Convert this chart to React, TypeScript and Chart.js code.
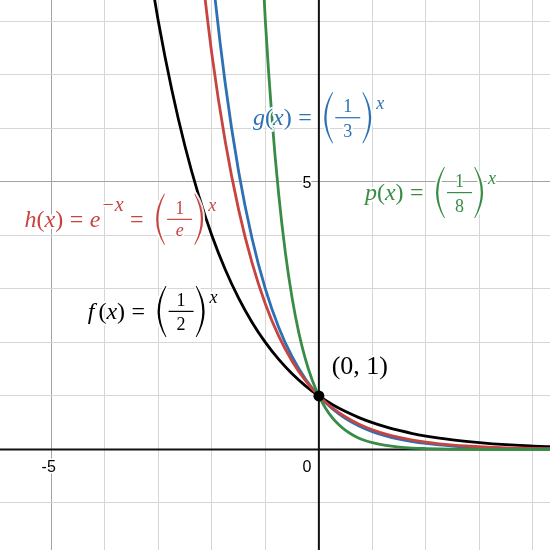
import React, { useEffect, useRef } from 'react';
import Chart from 'chart.js/auto';

// visible window (graph units)
const X_MIN = -5.96;
const X_MAX = 4.32;
const Y_MIN = -1.88;
const Y_MAX = 8.4;

const xTicks = [-5, -4, -3, -2, -1, 0, 1, 2, 3, 4];
const yTicks = [-1, 0, 1, 2, 3, 4, 5, 6, 7, 8];
const xTickLabels = [-5];
const yTickLabels = [5];
const originLabel = '0';

// f(x) = (1/2)^x
const fX = [-3.25, -3, -2.75, -2.5, -2.25, -2, -1.75, -1.5, -1.25, -1, -0.75, -0.5, -0.25, 0, 0.25, 0.5, 0.75, 1, 1.25, 1.5, 1.75, 2, 2.25, 2.5, 2.75, 3, 3.25, 3.5, 3.75, 4, 4.25, 4.5];
const fY = [9.514, 8, 6.727, 5.657, 4.757, 4, 3.364, 2.828, 2.378, 2, 1.682, 1.414, 1.189, 1, 0.841, 0.707, 0.595, 0.5, 0.42, 0.354, 0.297, 0.25, 0.21, 0.177, 0.149, 0.125, 0.105, 0.088, 0.074, 0.063, 0.053, 0.044];

// g(x) = (1/3)^x
const gX = [-2.25, -2, -1.75, -1.5, -1.25, -1, -0.75, -0.5, -0.25, 0, 0.25, 0.5, 0.75, 1, 1.25, 1.5, 1.75, 2, 2.25, 2.5, 2.75, 3, 3.25, 3.5, 3.75, 4, 4.25, 4.5];
const gY = [11.84, 9, 6.839, 5.196, 3.948, 3, 2.28, 1.732, 1.316, 1, 0.76, 0.577, 0.439, 0.333, 0.253, 0.192, 0.146, 0.111, 0.084, 0.064, 0.049, 0.037, 0.028, 0.021, 0.016, 0.012, 0.009, 0.007];

// h(x) = e^-x
const hX = [-2.25, -2, -1.75, -1.5, -1.25, -1, -0.75, -0.5, -0.25, 0, 0.25, 0.5, 0.75, 1, 1.25, 1.5, 1.75, 2, 2.25, 2.5, 2.75, 3, 3.25, 3.5, 3.75, 4, 4.25, 4.5];
const hY = [9.488, 7.389, 5.755, 4.482, 3.49, 2.718, 2.117, 1.649, 1.284, 1, 0.779, 0.607, 0.472, 0.368, 0.287, 0.223, 0.174, 0.135, 0.105, 0.082, 0.064, 0.05, 0.039, 0.03, 0.024, 0.018, 0.014, 0.011];

// p(x) = (1/8)^x
const pX = [-1.125, -1, -0.875, -0.75, -0.625, -0.5, -0.375, -0.25, -0.125, 0, 0.125, 0.25, 0.375, 0.5, 0.625, 0.75, 0.875, 1, 1.25, 1.5, 1.75, 2, 2.25, 2.5, 3, 3.5, 4, 4.5];
const pY = [10.375, 8, 6.169, 4.757, 3.668, 2.828, 2.181, 1.682, 1.297, 1, 0.771, 0.595, 0.459, 0.354, 0.273, 0.21, 0.162, 0.125, 0.074, 0.044, 0.026, 0.016, 0.009, 0.006, 0.002, 0.001, 0.0002, 0.0001];

// the marked point
const pointX = [0];
const pointY = [1];
const pointLabel = '(0, 1)';

const BLACK = '#000000';
const BLUE = '#2d70b3';
const RED = '#c74440';
const GREEN = '#388c46';

const SERIF = '"Liberation Serif", "Times New Roman", serif';
const SANS = '"Liberation Sans", Arial, sans-serif';

type Tok =
  | { t: 'v'; s: string }
  | { t: 'r'; s: string }
  | { t: 'k'; w: number }
  | { t: 'eq' }
  | { t: 'sup'; s: string; minus?: boolean; size?: number; gap?: number }
  | { t: 'pf'; num: string; den: string; denIt?: boolean };

const fn = (name: string, kern = 0): Tok[] => [
  { t: 'v', s: name },
  { t: 'k', w: kern },
  { t: 'r', s: '(' },
  { t: 'v', s: 'x' },
  { t: 'r', s: ')' },
  { t: 'eq' },
];

// label anchors: left edge and math-axis height, in graph units
const mathLabels: { x: number; y: number; color: string; toks: Tok[] }[] = [
  { x: -1.23, y: 6.2, color: BLUE, toks: [...fn('g'), { t: 'pf', num: '1', den: '3' }, { t: 'sup', s: 'x' }] },
  { x: 0.86, y: 4.8, color: GREEN, toks: [...fn('p'), { t: 'pf', num: '1', den: '8' }, { t: 'sup', s: 'x' }] },
  {
    x: -5.5, y: 4.3, color: RED,
    toks: [...fn('h'), { t: 'v', s: 'e' }, { t: 'sup', s: 'x', minus: true, size: 20, gap: 2 }, { t: 'eq' }, { t: 'pf', num: '1', den: 'e', denIt: true }, { t: 'sup', s: 'x' }],
  },
  { x: -4.32, y: 2.58, color: BLACK, toks: [...fn('f', 4), { t: 'pf', num: '1', den: '2' }, { t: 'sup', s: 'x' }] },
];

type Op =
  | { kind: 'text'; s: string; font: string; x: number; y: number }
  | { kind: 'paren'; x: number; y1: number; y2: number; left: boolean }
  | { kind: 'bar'; x1: number; x2: number; y: number };

function layoutMath(ctx: CanvasRenderingContext2D, x0: number, y0: number, toks: Tok[]): Op[] {
  const S = 24;
  const F = 18;
  const it = (n: number) => `italic ${n}px ${SERIF}`;
  const rm = (n: number) => `${n}px ${SERIF}`;
  const bb = (s: string, font: string) => {
    ctx.font = font;
    const m = ctx.measureText(s);
    return { w: m.width, a: m.actualBoundingBoxAscent, d: m.actualBoundingBoxDescent };
  };
  const eq = bb('=', rm(S));
  const base = y0 + (eq.a - eq.d) / 2;
  const ops: Op[] = [];
  let cx = x0;
  for (const k of toks) {
    if (k.t === 'v' || k.t === 'r') {
      const font = k.t === 'v' ? it(S) : rm(S);
      ops.push({ kind: 'text', s: k.s, font, x: cx, y: base });
      cx += bb(k.s, font).w;
    } else if (k.t === 'k') {
      cx += k.w;
    } else if (k.t === 'eq') {
      cx += 6.5;
      ops.push({ kind: 'text', s: '=', font: rm(S), x: cx, y: base });
      cx += eq.w + 6.5;
    } else if (k.t === 'sup') {
      const size = k.size ?? 18;
      cx += k.gap ?? 5;
      const xm = bb(k.s, it(size));
      const b = y0 - 13 + (xm.a - xm.d) / 2;
      if (k.minus) {
        const mm = bb('\u2212', rm(size));
        ops.push({ kind: 'text', s: '\u2212', font: rm(size), x: cx, y: b });
        cx += mm.w + 1;
      }
      ops.push({ kind: 'text', s: k.s, font: it(size), x: cx, y: b });
      cx += xm.w;
    } else if (k.t === 'pf') {
      cx += 6;
      ops.push({ kind: 'paren', x: cx, y1: y0 - 25.5, y2: y0 + 25.5, left: true });
      cx += 8 + 3;
      const denFont = k.denIt ? it(F) : rm(F);
      const n = bb(k.num, rm(F));
      const d = bb(k.den, denFont);
      const fw = Math.max(n.w, d.w) + 16;
      ops.push({ kind: 'bar', x1: cx, x2: cx + fw, y: y0 });
      ops.push({ kind: 'text', s: k.num, font: rm(F), x: cx + fw / 2 - n.w / 2, y: y0 - 12 + (n.a - n.d) / 2 });
      ops.push({ kind: 'text', s: k.den, font: denFont, x: cx + fw / 2 - d.w / 2, y: y0 + 12.5 + (d.a - d.d) / 2 });
      cx += fw + 3;
      ops.push({ kind: 'paren', x: cx, y1: y0 - 25.5, y2: y0 + 25.5, left: false });
      cx += 8;
    }
  }
  return ops;
}

function parenPath(ctx: CanvasRenderingContext2D, x: number, y1: number, y2: number, left: boolean) {
  const W = 8;
  const T = 2.3;
  const e = 0.9;
  const ym = (y1 + y2) / 2;
  ctx.beginPath();
  if (left) {
    const ex = x + W;
    ctx.moveTo(ex, y1);
    ctx.quadraticCurveTo(2 * x - ex, ym, ex, y2);
    ctx.lineTo(ex + e, y2);
    ctx.quadraticCurveTo(2 * (x + T) - (ex + e), ym, ex + e, y1);
  } else {
    const ex = x;
    const mx = x + W;
    ctx.moveTo(ex, y1);
    ctx.quadraticCurveTo(2 * mx - ex, ym, ex, y2);
    ctx.lineTo(ex - e, y2);
    ctx.quadraticCurveTo(2 * (mx - T) - (ex - e), ym, ex - e, y1);
  }
  ctx.closePath();
}

function paintOps(ctx: CanvasRenderingContext2D, ops: Op[], color: string) {
  ctx.textAlign = 'left';
  ctx.textBaseline = 'alphabetic';
  ctx.lineJoin = 'round';
  // white halo first, then ink
  for (const pass of ['halo', 'ink']) {
    for (const op of ops) {
      if (pass === 'halo') {
        ctx.strokeStyle = 'rgba(255,255,255,0.9)';
        ctx.lineWidth = 4;
      } else {
        ctx.fillStyle = color;
      }
      if (op.kind === 'text') {
        ctx.font = op.font;
        if (pass === 'halo') ctx.strokeText(op.s, op.x, op.y);
        else ctx.fillText(op.s, op.x, op.y);
      } else if (op.kind === 'paren') {
        parenPath(ctx, op.x, op.y1, op.y2, op.left);
        if (pass === 'halo') ctx.stroke();
        else ctx.fill();
      } else {
        if (pass === 'halo') ctx.strokeRect(op.x1, op.y - 0.6, op.x2 - op.x1, 1.2);
        else ctx.fillRect(op.x1, op.y - 0.6, op.x2 - op.x1, 1.2);
      }
    }
  }
}

const gridColor = (c: any) => {
  const v = c.tick?.value;
  if (v === 0) return 'rgba(0,0,0,0)';
  return v % 5 === 0 ? '#a3a3a3' : '#d6d6d6';
};

const desmosOverlay = {
  id: 'desmosOverlay',
  beforeDatasetsDraw(chart: any) {
    const { ctx, chartArea, scales } = chart;
    const x0 = scales.x.getPixelForValue(0);
    const y0 = scales.y.getPixelForValue(0);
    ctx.save();
    ctx.strokeStyle = '#111';
    ctx.lineWidth = 2;
    ctx.beginPath();
    ctx.moveTo(chartArea.left, y0);
    ctx.lineTo(chartArea.right, y0);
    ctx.moveTo(x0, chartArea.top);
    ctx.lineTo(x0, chartArea.bottom);
    ctx.stroke();

    // tick numbers
    ctx.font = `16px ${SANS}`;
    ctx.lineJoin = 'round';
    const put = (s: string, x: number, cy: number) => {
      const m = ctx.measureText(s);
      const b = cy + (m.actualBoundingBoxAscent - m.actualBoundingBoxDescent) / 2;
      ctx.textAlign = 'left';
      ctx.strokeStyle = '#fff';
      ctx.lineWidth = 3;
      ctx.strokeText(s, x, b);
      ctx.fillStyle = '#000';
      ctx.fillText(s, x, b);
    };
    for (const v of xTickLabels) {
      const s = String(v);
      const digits = ctx.measureText(String(Math.abs(v))).width;
      const full = ctx.measureText(s).width;
      const px = scales.x.getPixelForValue(v);
      put(s, px + digits / 2 - full, y0 + 17);
    }
    for (const v of yTickLabels) {
      const s = String(v);
      const full = ctx.measureText(s).width;
      put(s, x0 - 7.5 - full, scales.y.getPixelForValue(v));
    }
    put(originLabel, x0 - 7.5 - ctx.measureText(originLabel).width, y0 + 17);
    ctx.restore();
  },
  afterDatasetsDraw(chart: any) {
    const { ctx, scales } = chart;
    ctx.save();
    for (const lab of mathLabels) {
      const ops = layoutMath(ctx, scales.x.getPixelForValue(lab.x), scales.y.getPixelForValue(lab.y), lab.toks);
      paintOps(ctx, ops, lab.color);
    }
    // point label
    const font = `26px ${SERIF}`;
    ctx.font = font;
    const m = ctx.measureText('(');
    const cy = scales.y.getPixelForValue(1.52);
    const base = cy + (m.actualBoundingBoxAscent - m.actualBoundingBoxDescent) / 2;
    paintOps(ctx, [{ kind: 'text', s: pointLabel, font, x: scales.x.getPixelForValue(0.24), y: base }], BLACK);
    ctx.restore();
  },
};

const pts = (xs: number[], ys: number[]) => xs.map((x, i) => ({ x, y: ys[i] }));

const curve = (label: string, xs: number[], ys: number[], color: string, order: number) => ({
  label,
  data: pts(xs, ys),
  showLine: true,
  borderColor: color,
  backgroundColor: color,
  borderWidth: 2.8,
  pointRadius: 0,
  cubicInterpolationMode: 'monotone' as const,
  order,
});

export default function App() {
  const canvasRef = useRef<HTMLCanvasElement>(null);
  const chartRef = useRef<Chart | null>(null);

  useEffect(() => {
    if (!canvasRef.current) return;
    if (chartRef.current) chartRef.current.destroy();

    chartRef.current = new Chart(canvasRef.current, {
      type: 'scatter',
      data: {
        datasets: [
          {
            label: 'point',
            data: pts(pointX, pointY),
            showLine: false,
            pointRadius: 5.5,
            pointBackgroundColor: BLACK,
            pointBorderColor: BLACK,
            pointBorderWidth: 0,
            order: 0,
          },
          curve('p', pX, pY, GREEN, 1),
          curve('h', hX, hY, RED, 2),
          curve('g', gX, gY, BLUE, 3),
          curve('f', fX, fY, BLACK, 4),
        ],
      },
      options: {
        animation: false,
        responsive: false,
        layout: { padding: 0, autoPadding: false },
        plugins: {
          legend: { display: false },
          tooltip: { enabled: false },
        },
        scales: {
          x: {
            type: 'linear',
            min: X_MIN,
            max: X_MAX,
            afterBuildTicks: (s: any) => {
              s.ticks = xTicks.map((value) => ({ value }));
            },
            ticks: { display: false },
            grid: { drawTicks: false, color: gridColor, lineWidth: 1 },
            border: { display: false },
          },
          y: {
            type: 'linear',
            min: Y_MIN,
            max: Y_MAX,
            afterBuildTicks: (s: any) => {
              s.ticks = yTicks.map((value) => ({ value }));
            },
            ticks: { display: false },
            grid: { drawTicks: false, color: gridColor, lineWidth: 1 },
            border: { display: false },
          },
        },
      },
      plugins: [desmosOverlay],
    } as any);

    return () => {
      if (chartRef.current) {
        chartRef.current.destroy();
        chartRef.current = null;
      }
    };
  }, []);

  return (
    <div style={{ position: 'fixed', left: 0, top: 0, width: 550, height: 550, background: '#fff' }}>
      <canvas ref={canvasRef} width={550} height={550} />
    </div>
  );
}
